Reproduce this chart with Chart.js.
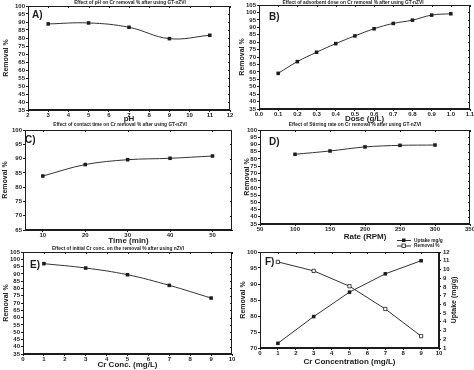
<!DOCTYPE html>
<html>
<head>
<meta charset="utf-8">
<script src="https://cdn.jsdelivr.net/npm/chart.js@4.4.1/dist/chart.umd.min.js"></script>
<style>
html, body { margin: 0; padding: 0; background: #fff; }
body { width: 474px; height: 370px; position: relative; overflow: hidden; }
.panel { position: absolute; }
</style>
</head>
<body>
<script>
// ---- data ----
const phValues = [3, 5, 7, 9, 11];
const phRemoval = [88.8, 89.4, 86.7, 79.6, 81.7];
const phTicks = [2, 3, 4, 5, 6, 7, 8, 9, 10, 11, 12];

const doseValues = [0.1, 0.2, 0.3, 0.4, 0.5, 0.6, 0.7, 0.8, 0.9, 1.0];
const doseRemoval = [59, 66.9, 73.2, 79, 84.2, 89, 92.6, 94.8, 98.2, 99.1];
const doseTicks = [0, 0.1, 0.2, 0.3, 0.4, 0.5, 0.6, 0.7, 0.8, 0.9, 1.0, 1.1];

const timeValues = [10, 20, 30, 40, 50];
const timeRemoval = [83.9, 87.9, 89.6, 90.1, 90.9];
const timeTicks = [10, 20, 30, 40, 50];

const rateValues = [100, 150, 200, 250, 300];
const rateRemoval = [83.2, 85.5, 88.3, 89.4, 89.6];
const rateTicks = [50, 100, 150, 200, 250, 300, 350];

const concValues = [1, 3, 5, 7, 9];
const concRemoval = [97, 94, 89.4, 82.1, 73.4];
const concTicks = [0, 1, 2, 3, 4, 5, 6, 7, 8, 9, 10];

const crValues = [1, 3, 5, 7, 9];
const crUptake = [1.54, 4.6, 7.4, 9.5, 11.0];
const crRemoval = [96.9, 94.1, 89.3, 82.2, 73.7];

const removalTicks35to100 = [35, 40, 45, 50, 55, 60, 65, 70, 75, 80, 85, 90, 95, 100];
const removalTicks35to105 = [35, 40, 45, 50, 55, 60, 65, 70, 75, 80, 85, 90, 95, 100, 105];
const removalTicks65to100 = [65, 70, 75, 80, 85, 90, 95, 100];
const removalTicks70to100 = [70, 75, 80, 85, 90, 95, 100];
const uptakeTicks = [1, 2, 3, 4, 5, 6, 7, 8, 9, 10, 11, 12];

// ---- styling ----
const INK = "#1c1c1c";
const LINE = "#333";
const FAMILY = "'Liberation Sans', Arial, sans-serif";
const tickFont = { family: FAMILY, size: 6, weight: "bold" };
const xTitleFont = { family: FAMILY, size: 8, weight: "bold" };
const yTitleFont = { family: FAMILY, size: 7, weight: "bold" };

const toPoints = (xs, ys) => xs.map((x, i) => ({ x: x, y: ys[i] }));

function xAxis(cfg, min, max, ticks, title, fmt) {
	const height = cfg.box[1] + cfg.box[3] - cfg.plot[3];
	return {
		type: "linear",
		position: "bottom",
		min: min,
		max: max,
		afterBuildTicks: (s) => {
			s.ticks = ticks.map((v) => ({ value: v }));
		},
		afterFit: (s) => {
			s.height = height;
			s.paddingLeft = 0;
			s.paddingRight = 0;
		},
		grid: { drawOnChartArea: false, tickLength: 2, color: INK, tickColor: INK },
		border: { color: INK, width: 1 },
		ticks: {
			autoSkip: false,
			maxRotation: 0,
			minRotation: 0,
			padding: 0,
			color: INK,
			font: tickFont,
			callback: fmt || ((v) => String(v)),
		},
		title: { display: true, text: title, color: INK, font: xTitleFont, padding: { top: 0, bottom: 0 } },
	};
}

function yAxis(cfg, pos, min, max, ticks, title, titlePad) {
	const width = pos === "left" ? cfg.plot[0] - cfg.box[0] : cfg.box[0] + cfg.box[2] - cfg.plot[2];
	return {
		type: "linear",
		position: pos,
		min: min,
		max: max,
		afterBuildTicks: (s) => {
			s.ticks = ticks.map((v) => ({ value: v }));
		},
		afterFit: (s) => {
			s.width = width;
			s.paddingTop = 0;
			s.paddingBottom = 0;
		},
		grid: { drawOnChartArea: false, tickLength: 2, color: INK, tickColor: INK },
		border: { color: INK, width: 1 },
		ticks: { autoSkip: false, padding: pos === "left" ? 1 : 2, color: INK, font: tickFont },
		title: title
			? { display: true, text: title, color: INK, font: yTitleFont, padding: { top: titlePad, bottom: 0 } }
			: { display: false },
	};
}

function lineSet(label, points, tension, openMarker, axisId) {
	return {
		label: label,
		data: points,
		yAxisID: axisId || "y",
		borderColor: LINE,
		borderWidth: 1,
		tension: tension,
		pointStyle: "rect",
		pointRadius: openMarker ? 2.3 : 2.5,
		pointBorderWidth: openMarker ? 0.8 : 0,
		pointBorderColor: INK,
		pointBackgroundColor: openMarker ? "#fff" : INK,
	};
}

// frame, mirrored ticks, panel letter, heading, legend
const decor = {
	id: "decor",
	afterDraw(chart, args, o) {
		const ctx = chart.ctx;
		const a = chart.chartArea;
		const ox = o.origin[0];
		const oy = o.origin[1];
		ctx.save();
		ctx.strokeStyle = INK;
		ctx.lineWidth = 1;
		ctx.strokeRect(Math.round(a.left) + 0.5, Math.round(a.top) + 0.5, Math.round(a.right - a.left) - 1, Math.round(a.bottom - a.top) - 1);

		ctx.beginPath();
		const xs = chart.scales.x;
		xs.ticks.forEach((t) => {
			const px = Math.round(xs.getPixelForValue(t.value)) + 0.5;
			ctx.moveTo(px, a.top);
			ctx.lineTo(px, a.top + 2);
		});
		if (!chart.scales.y2) {
			const ys = chart.scales.y;
			ys.ticks.forEach((t) => {
				const py = Math.round(ys.getPixelForValue(t.value)) + 0.5;
				ctx.moveTo(a.right, py);
				ctx.lineTo(a.right - 2, py);
			});
		}
		ctx.stroke();

		ctx.fillStyle = INK;
		ctx.font = "bold 10px " + FAMILY;
		ctx.textAlign = "left";
		ctx.textBaseline = "top";
		ctx.fillText(o.letter, o.letterAt[0] - ox, o.letterAt[1] - oy);

		if (o.heading) {
			ctx.font = "bold 4.8px " + FAMILY;
			ctx.textAlign = "center";
			ctx.textBaseline = "middle";
			ctx.fillText(o.heading, o.headingAt[0] - ox, o.headingAt[1] - oy);
		}

		if (o.rightTitle) {
			ctx.font = "bold 7px " + FAMILY;
			ctx.textAlign = "center";
			ctx.textBaseline = "middle";
			ctx.translate(o.rightTitleAt[0] - ox, o.rightTitleAt[1] - oy);
			ctx.rotate(-Math.PI / 2);
			ctx.fillText(o.rightTitle, 0, 0);
			ctx.setTransform(1, 0, 0, 1, 0, 0);
		}

		if (o.legendAt) {
			const lx = o.legendAt[0] - ox;
			let ly = o.legendAt[1] - oy;
			ctx.font = "bold 4.8px " + FAMILY;
			ctx.textAlign = "left";
			ctx.textBaseline = "middle";
			chart.data.datasets.forEach((ds) => {
				ctx.strokeStyle = ds.borderColor;
				ctx.lineWidth = 1;
				ctx.beginPath();
				ctx.moveTo(lx, ly + 0.5);
				ctx.lineTo(lx + 14, ly + 0.5);
				ctx.stroke();
				ctx.fillStyle = ds.pointBackgroundColor;
				ctx.fillRect(lx + 5, ly - 1.5, 3.5, 3.5);
				if (ds.pointBorderWidth) {
					ctx.strokeStyle = INK;
					ctx.lineWidth = 0.8;
					ctx.strokeRect(lx + 5, ly - 1.5, 3.5, 3.5);
				}
				ctx.fillStyle = INK;
				ctx.fillText(ds.label, lx + 17, ly + 0.5);
				ly += 5.5;
			});
		}
		ctx.restore();
	},
};

function makePanel(cfg, datasets, scales, extra) {
	const [bx, by, bw, bh] = cfg.box;
	const holder = document.createElement("div");
	holder.className = "panel";
	holder.style.left = bx + "px";
	holder.style.top = by + "px";
	holder.style.width = bw + "px";
	holder.style.height = bh + "px";
	const canvas = document.createElement("canvas");
	canvas.width = bw;
	canvas.height = bh;
	canvas.style.width = bw + "px";
	canvas.style.height = bh + "px";
	holder.appendChild(canvas);
	document.body.appendChild(holder);

	const hasRight = !!scales.y2;
	return new Chart(canvas.getContext("2d"), {
		type: "line",
		data: { datasets: datasets },
		options: {
			responsive: false,
			animation: false,
			devicePixelRatio: 1,
			layout: {
				padding: {
					left: 0,
					top: cfg.plot[1] - by,
					right: hasRight ? 0 : bx + bw - cfg.plot[2],
					bottom: 0,
				},
			},
			scales: scales,
			plugins: {
				legend: { display: false },
				tooltip: { enabled: false },
				decor: Object.assign({ origin: [bx, by] }, extra),
			},
		},
		plugins: [decor],
	});
}

// ---- panels ----
const boxA = { box: [0, 0, 237, 124], plot: [28, 6, 230, 110] };
makePanel(
	boxA,
	[lineSet("Removal %", toPoints(phValues, phRemoval), 0.4)],
	{
		x: xAxis(boxA, 2, 12, phTicks, "pH"),
		y: yAxis(boxA, "left", 35, 100, removalTicks35to100, "Removal %", 2),
	},
	{ letter: "A)", letterAt: [32, 10], heading: "Effect of pH on Cr removal % after using GT-nZVI", headingAt: [130, 3] }
);

const boxB = { box: [237, 0, 237, 124], plot: [259, 5, 470, 109] };
makePanel(
	boxB,
	[lineSet("Removal %", toPoints(doseValues, doseRemoval), 0.4)],
	{
		x: xAxis(boxB, 0, 1.1, doseTicks, "Dose (g/L)", (v) => v.toFixed(1)),
		y: yAxis(boxB, "left", 35, 105, removalTicks35to105, "Removal %", 1),
	},
	{ letter: "B)", letterAt: [269, 12], heading: "Effect of adsorbent dose on Cr removal % after using GT-nZVI", headingAt: [353, 3] }
);

const boxC = { box: [0, 122, 237, 124], plot: [25, 130, 232, 230] };
makePanel(
	boxC,
	[lineSet("Removal %", toPoints(timeValues, timeRemoval), 0.35)],
	{
		x: xAxis(boxC, 5.8, 54.6, timeTicks, "Time (min)"),
		y: yAxis(boxC, "left", 65, 100, removalTicks65to100, "Removal %", 1),
	},
	{ letter: "C)", letterAt: [25, 135], heading: "Effect of contact time on Cr removal % after using GT-nZVI", headingAt: [120, 125] }
);

const boxD = { box: [237, 122, 237, 120], plot: [260, 130, 470, 224] };
makePanel(
	boxD,
	[lineSet("Removal %", toPoints(rateValues, rateRemoval), 0.3)],
	{
		x: xAxis(boxD, 50, 350, rateTicks, "Rate (RPM)"),
		y: yAxis(boxD, "left", 35, 100, removalTicks35to100, "Removal %", 6),
	},
	{ letter: "D)", letterAt: [269, 137], heading: "Effect of Stirring rate on Cr removal % after using GT-nZVI", headingAt: [355, 125] }
);

const boxE = { box: [0, 244, 237, 126], plot: [23, 252, 232, 354] };
makePanel(
	boxE,
	[lineSet("Removal %", toPoints(concValues, concRemoval), 0.4)],
	{
		x: xAxis(boxE, 0, 10, concTicks, "Cr Conc. (mg/L)"),
		y: yAxis(boxE, "left", 35, 105, removalTicks35to105, "Removal %", 2),
	},
	{ letter: "E)", letterAt: [30, 260], heading: "Effect of initial Cr conc. on the removal % after using nZVI", headingAt: [118, 249] }
);

const boxF = { box: [237, 236, 237, 131], plot: [260, 252, 439, 348] };
makePanel(
	boxF,
	[
		lineSet("Uptake mg/g", toPoints(crValues, crUptake), 0, false, "y2"),
		lineSet("Removal %", toPoints(crValues, crRemoval), 0, true, "y"),
	],
	{
		x: xAxis(boxF, 0, 10, concTicks, "Cr Concentration (mg/L)"),
		y: yAxis(boxF, "left", 70, 100, removalTicks70to100, "Removal %", 2),
		y2: yAxis(boxF, "right", 1, 12, uptakeTicks, null, 0),
	},
	{
		letter: "F)",
		letterAt: [265, 257],
		rightTitle: "Uptake (mg/g)",
		rightTitleAt: [454, 300],
		legendAt: [397, 240],
	}
);
</script>
</body>
</html>
